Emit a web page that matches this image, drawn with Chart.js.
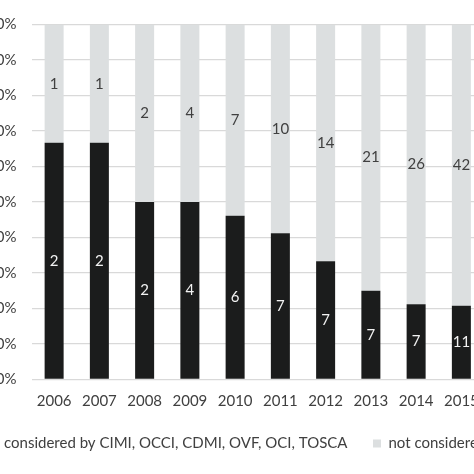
<!DOCTYPE html>
<html>
<head>
<meta charset="utf-8">
<script src="https://cdn.jsdelivr.net/npm/chart.js@4.4.1/dist/chart.umd.min.js"></script>
<style>
  html, body { margin: 0; padding: 0; width: 474px; height: 474px; overflow: hidden; background: #fff; }
  #wrap { position: absolute; left: -37.5px; top: 0; }
</style>
</head>
<body>
<div id="wrap"><canvas id="chart" width="950" height="461"></canvas></div>
<script>
const years         = ['2006','2007','2008','2009','2010','2011','2012','2013','2014','2015'];
const considered    = [2, 2, 2, 4, 6, 7, 7, 7, 7, 11];
const notConsidered = [1, 1, 2, 4, 7, 10, 14, 21, 26, 42];
const seriesNames   = ['considered by CIMI, OCCI, CDMI, OVF, OCI, TOSCA',
                       'not considered by CIMI, OCCI, CDMI, OVF, OCI, TOSCA'];
const yTicks        = [0, 10, 20, 30, 40, 50, 60, 70, 80, 90, 100];

const counts = [considered, notConsidered];
const share = (arr) => arr.map((v, i) => v / (considered[i] + notConsidered[i]) * 100);

Chart.defaults.font.family = 'Lato';
Chart.defaults.font.size = 15;
Chart.defaults.color = '#404040';

// draws the raw counts in the middle of every segment
const countLabels = {
  id: 'countLabels',
  afterDatasetsDraw(chart) {
    const ctx = chart.ctx;
    ctx.save();
    ctx.font = '15px Lato';
    ctx.textAlign = 'center';
    ctx.textBaseline = 'middle';
    chart.data.datasets.forEach((ds, di) => {
      const meta = chart.getDatasetMeta(di);
      ctx.fillStyle = di === 0 ? '#f2f2f2' : '#404040';
      meta.data.forEach((bar, i) => {
        const p = bar.getCenterPoint();
        ctx.fillText(String(counts[di][i]), p.x, p.y);
      });
    });
    ctx.restore();
  }
};

new Chart(document.getElementById('chart').getContext('2d'), {
  type: 'bar',
  data: {
    labels: years,
    datasets: [{
      label: seriesNames[0], data: share(considered),
      backgroundColor: '#1b1c1c', borderWidth: 0,
      barPercentage: 0.42, categoryPercentage: 1
    }, {
      label: seriesNames[1], data: share(notConsidered),
      backgroundColor: '#dcdfe0', borderWidth: 0,
      barPercentage: 0.42, categoryPercentage: 1
    }]
  },
  options: {
    responsive: false,
    animation: false,
    layout: { padding: { top: 24.5, left: 0, right: 0, bottom: 0 } },
    plugins: {
      tooltip: { enabled: false },
      legend: {
        position: 'bottom',
        align: 'start',
        labels: { boxWidth: 8, boxHeight: 8, padding: 25.5, color: '#404040', font: { size: 15 } }
      }
    },
    scales: {
      x: {
        stacked: true,
        grid: { display: false, drawTicks: false },
        border: { display: false },
        ticks: { padding: 13, color: '#404040' },
        afterFit(s) { s.height = 31; }
      },
      y: {
        stacked: true, min: 0, max: 100,
        grid: { color: '#d9d9d9', lineWidth: 1.3, drawTicks: false },
        border: { display: false },
        afterBuildTicks(s) { s.ticks = yTicks.map(v => ({ value: v })); },
        ticks: { padding: 15, color: '#404040', callback: v => v + '%' },
        afterFit(s) { s.width = 68.5; }
      },
      yRight: {
        position: 'right', display: true,
        grid: { display: false, drawTicks: false },
        border: { display: false },
        ticks: { display: false },
        afterFit(s) { s.width = 429; }
      }
    }
  },
  plugins: [countLabels]
});
</script>
</body>
</html>
